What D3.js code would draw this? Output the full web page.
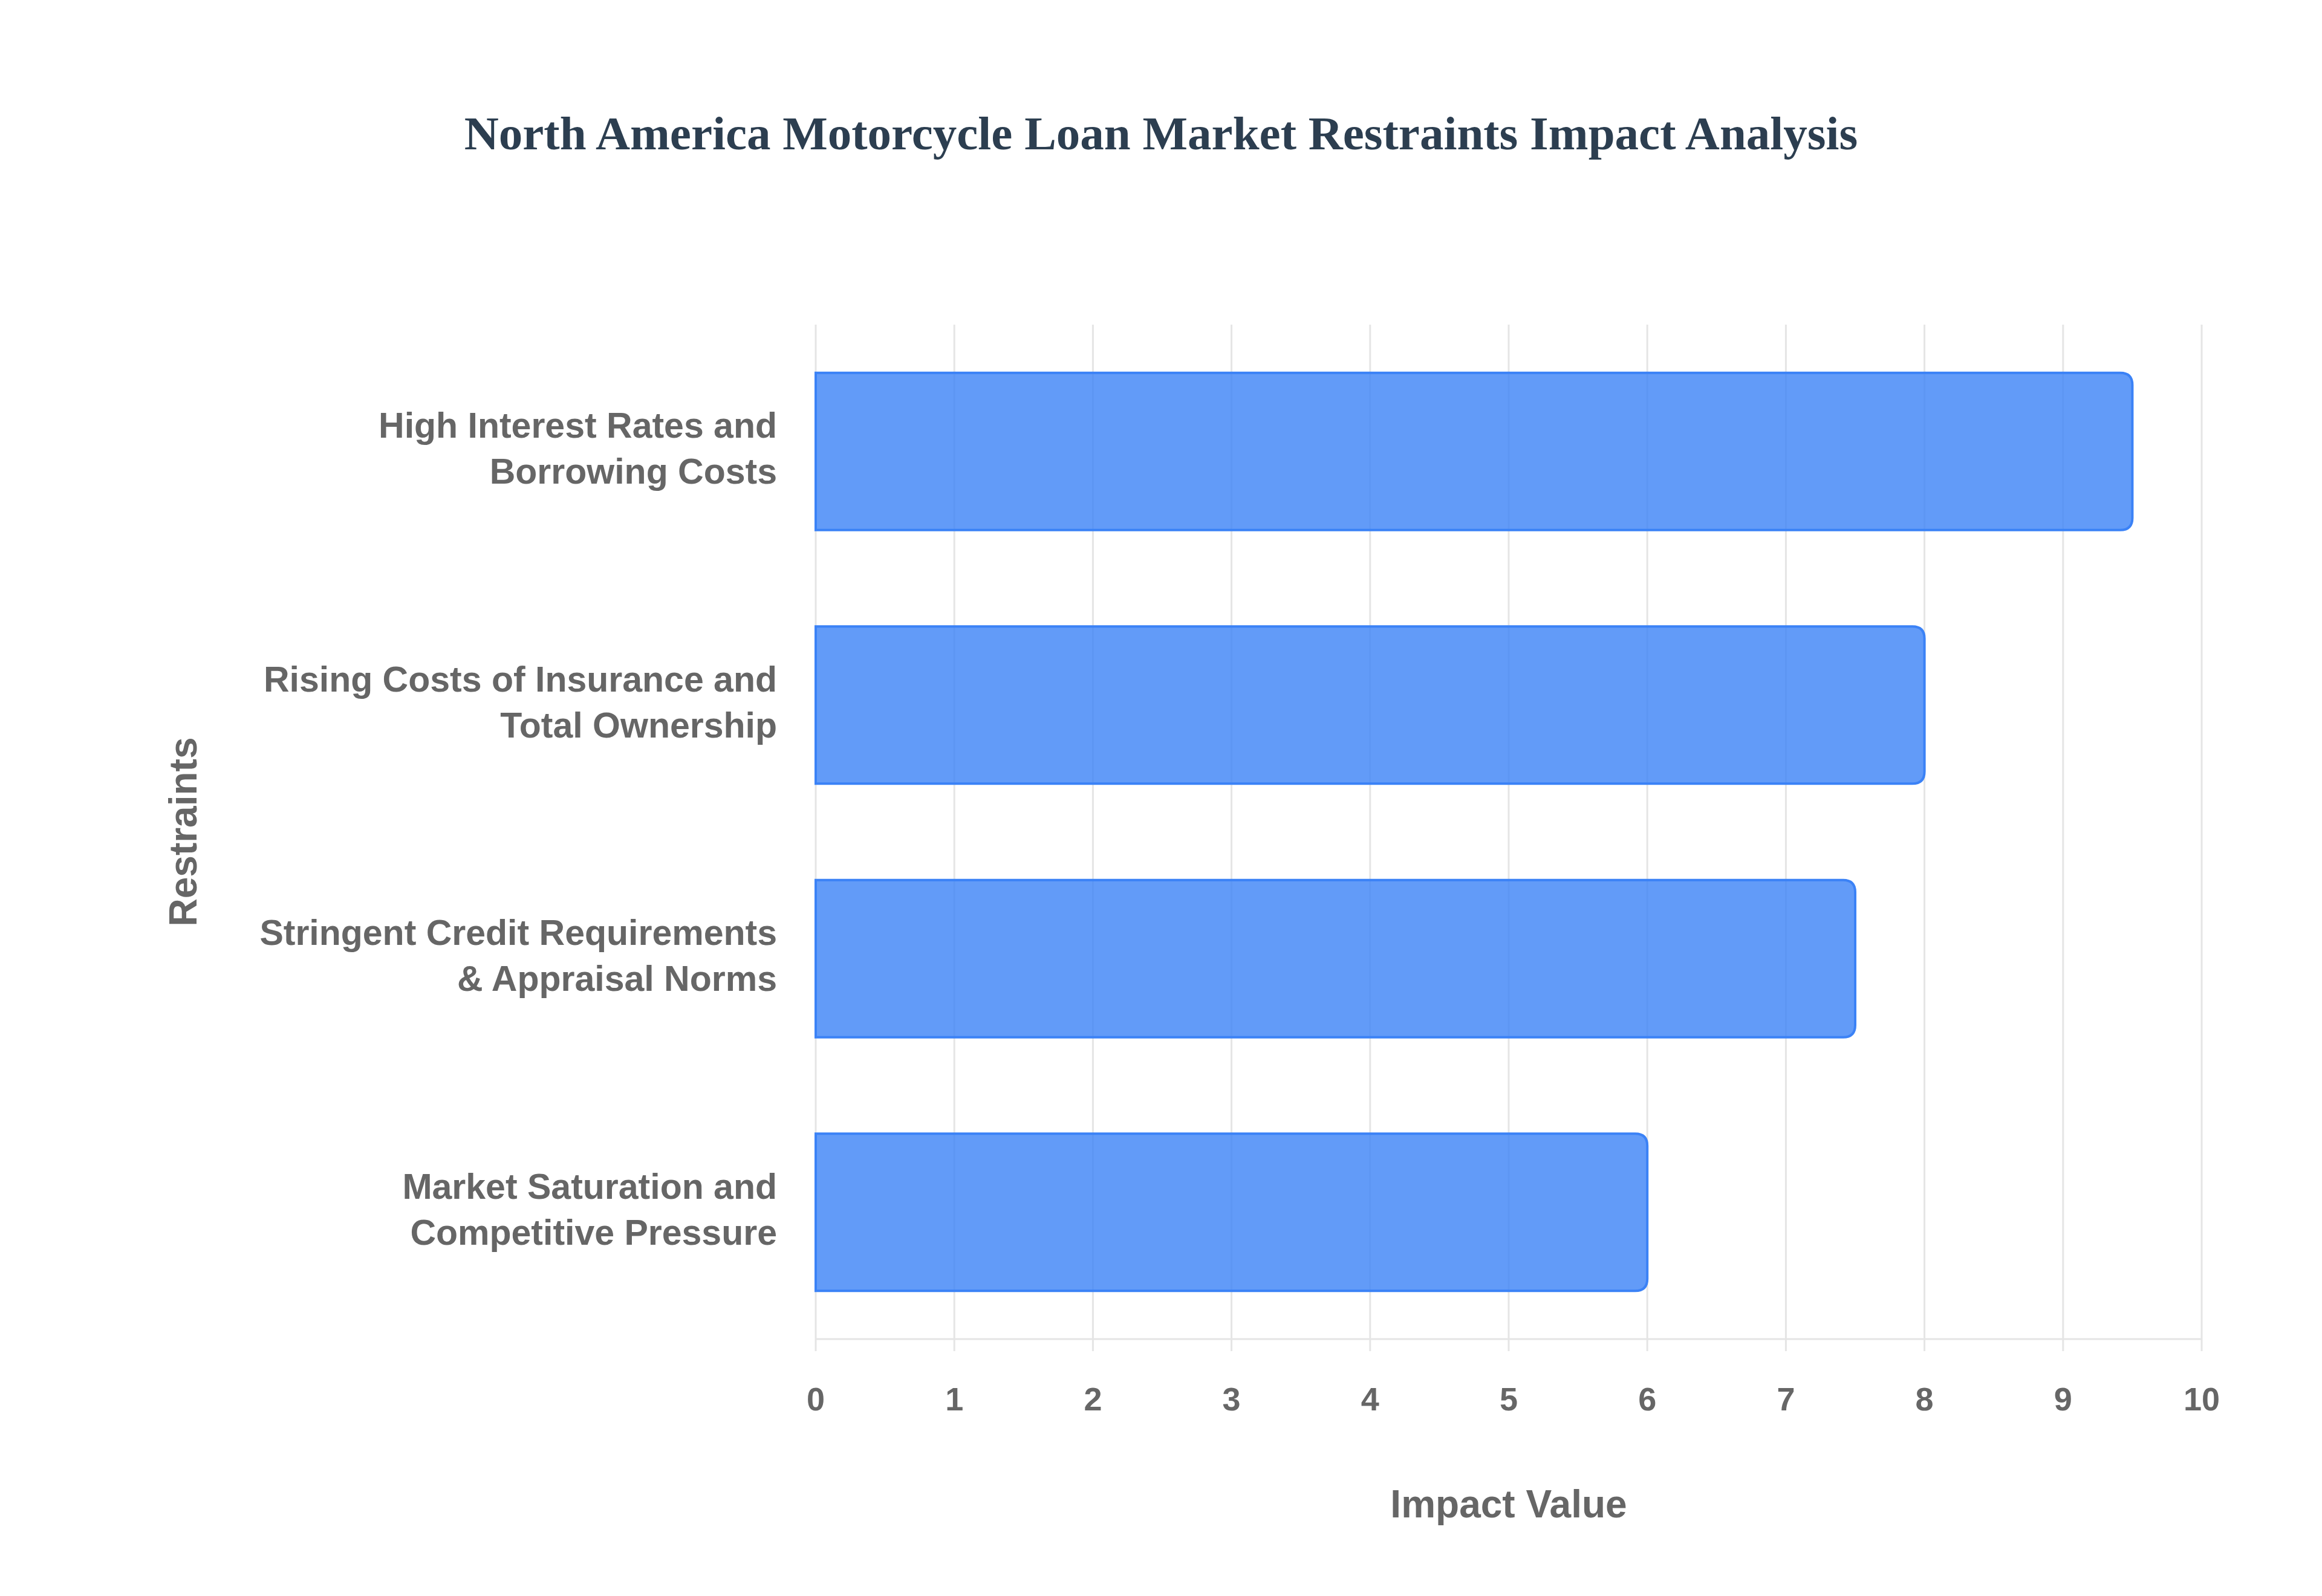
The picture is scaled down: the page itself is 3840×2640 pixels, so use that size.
<!DOCTYPE html>
<html><head><meta charset="utf-8">
<script src="https://cdn.jsdelivr.net/npm/d3@7"></script>
<style>body{margin:0;background:#fff}</style></head>
<body><svg id="c" width="3840" height="2640"></svg>
<script>
const categories = [
  ["High Interest Rates and","Borrowing Costs"],
  ["Rising Costs of Insurance and","Total Ownership"],
  ["Stringent Credit Requirements","& Appraisal Norms"],
  ["Market Saturation and","Competitive Pressure"]
];
const values = [9.5, 8, 7.5, 6];
const xTicks = [0,1,2,3,4,5,6,7,8,9,10];

const svg = d3.select("#c");
const L=1349, R=3641, T=537, B=2215;
const x = d3.scaleLinear().domain([0,10]).range([L,R]);
const y = d3.scaleBand().domain(d3.range(categories.length)).range([T,B]).paddingInner(0.38).paddingOuter(0.19);
const font = "'Liberation Sans', Arial, sans-serif";

svg.append("text").attr("x",1920).attr("y",229).attr("text-anchor","middle").attr("dominant-baseline","middle")
  .attr("font-family","'Liberation Serif','Times New Roman',serif").attr("font-weight","bold").attr("font-size",79)
  .attr("fill","#2c3e50").text("North America Motorcycle Loan Market Restraints Impact Analysis");

svg.append("g").selectAll("line").data(xTicks).join("line")
  .attr("x1",d=>x(d)).attr("x2",d=>x(d)).attr("y1",T).attr("y2",B+20)
  .attr("stroke","#e5e5e5").attr("stroke-width",3);
svg.append("line").attr("x1",L).attr("x2",R).attr("y1",B).attr("y2",B).attr("stroke","#e5e5e5").attr("stroke-width",3);

const r=20;
svg.append("g").selectAll("path").data(values).join("path")
  .attr("d",(d,i)=>{const x0=x(0),x1=x(d),y0=y(i),h=y.bandwidth();
    return `M${x0},${y0}H${x1-r}Q${x1},${y0} ${x1},${y0+r}V${y0+h-r}Q${x1},${y0+h} ${x1-r},${y0+h}H${x0}Z`;})
  .attr("fill","rgba(59,130,246,0.8)").attr("stroke","#3b82f6").attr("stroke-width",4);

svg.append("g").selectAll("text").data(xTicks).join("text")
  .attr("x",d=>x(d)).attr("y",2319).attr("text-anchor","middle").attr("dominant-baseline","middle")
  .attr("font-family",font).attr("font-weight","bold").attr("font-size",54).attr("fill","#666").text(d=>d);

const lab = svg.append("g").selectAll("text").data(categories).join("text")
  .attr("text-anchor","end").attr("font-family",font).attr("font-weight","bold").attr("font-size",59).attr("fill","#666");
lab.each(function(d,i){
  const c=y(i)+y.bandwidth()/2;
  d3.select(this).selectAll("tspan").data(d).join("tspan")
    .attr("x",1285).attr("y",(t,j)=>c+(j-0.5)*76).attr("dominant-baseline","middle").text(t=>t);
});

svg.append("text").attr("x",(L+R)/2).attr("y",2493).attr("text-anchor","middle").attr("dominant-baseline","middle")
  .attr("font-family",font).attr("font-weight","bold").attr("font-size",64).attr("fill","#666").text("Impact Value");
svg.append("text").attr("transform","translate(308,1376) rotate(-90)").attr("text-anchor","middle").attr("dominant-baseline","middle")
  .attr("font-family",font).attr("font-weight","bold").attr("font-size",64).attr("fill","#666").text("Restraints");
</script></body></html>
